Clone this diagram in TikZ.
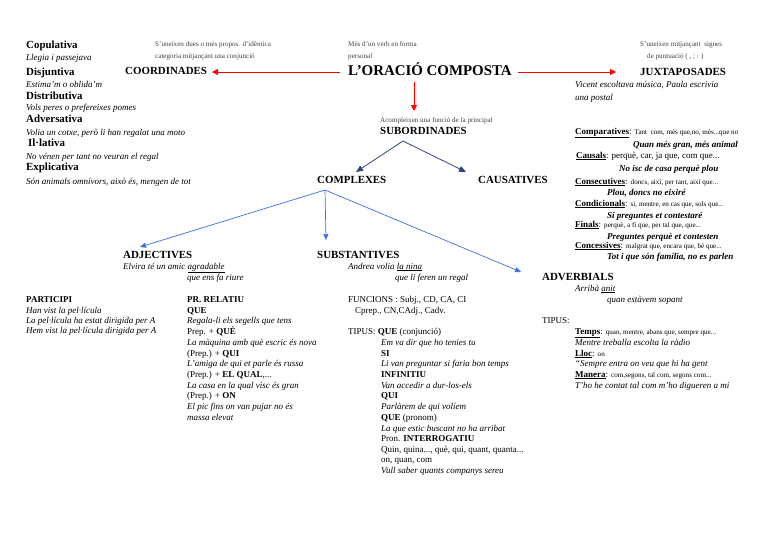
\documentclass[tikz,border=0pt]{standalone}
\usepackage{fontspec}
\setmainfont{Liberation Serif}
\usetikzlibrary{arrows.meta}
\definecolor{navy}{RGB}{50,70,120}
\definecolor{lblue}{RGB}{60,110,230}
\newcommand{\smtx}{\fontsize{7.1}{7}\selectfont}
\begin{document}
\begin{tikzpicture}[x=1pt,y=-1pt,
 t/.style={anchor=base west,inner sep=0pt,yshift=-3pt,font=\fontsize{9}{9}\selectfont},
 e/.style={t,font=\fontsize{9}{9}\selectfont\itshape},
 h/.style={t,yshift=-0.6pt,font=\fontsize{10.9}{11}\selectfont\bfseries},
 s/.style={t,yshift=1pt,font=\fontsize{7.1}{7}\selectfont,text=black!75},
 big/.style={t,yshift=-1.5pt,font=\fontsize{14.9}{15}\selectfont\bfseries},
 red/.style={draw=red,line width=0.9pt,-{Triangle[length=6pt,width=6pt]}},
 bl/.style={draw=lblue,line width=0.7pt,-{Triangle[length=6pt,width=5pt]}},
 nv/.style={draw=navy,line width=0.8pt}]
\useasboundingbox (0,0) rectangle (768,543);
% left column
\node[h] (cop) at (26,45) {Copulativa};
\node[e] (cope) at (26,57) {Llegia i passejava};
\node[h] (dis) at (26,72) {Disjuntiva};
\node[e] (dise) at (26,84) {Estima'm o oblida'm};
\node[h] (dst) at (26,96) {Distributiva};
\node[e] (dste) at (26,107) {Vols peres o prefereixes pomes};
\node[h] (adv) at (26,119) {Adversativa};
\node[e] (adve) at (26,132) {Volia un cotxe, però li han regalat una moto};
\node[h] (ill) at (28,143) {Il·lativa};
\node[e] (ille) at (26,156) {No vénen per tant no veuran el regal};
\node[h] (exp) at (26,167) {Explicativa};
\node[e] (expe) at (26,181) {Són animals omnívors, això és, mengen de tot};
\node[s] (cd1) at (155,45) {S'uneixen dues o més propos. d'idèntica};
\node[s] (cd2) at (155,57) {categoria mitjançant una conjunció};
\node[h] (coord) at (125,71) {COORDINADES};
% centre
\node[s] (mv1) at (348,45) {Més d'un verb en forma};
\node[s] (mv2) at (348,57) {personal};
\node[big] (comp) at (348,71) {L'ORACIÓ COMPOSTA};
\node[s] (jx1) at (640,45) {S'uneixen mitjançant\ \ signes};
\node[s] (jx2) at (647,57) {de puntuació ( , ; : )};
\node[h] (juxt) at (640,72) {JUXTAPOSADES};
\node[e] (jxe1) at (575,84) {Vicent escoltava música, Paula escrivia};
\node[e] (jxe2) at (575,97) {una postal};
\node[s] (acp) at (380,120) {Acompleixen una funció de la principal};
\node[h] (sub) at (380,131) {SUBORDINADES};
\node[h] (cplx) at (317,180) {COMPLEXES};
\node[h] (caus) at (478,180) {CAUSATIVES};
\coordinate (sp) at (403,141);
\draw[red] (340,72) -- (212,72);
\draw[red] (518,72) -- (616,72);
\draw[red] (414,82) -- (414,111);
\draw[nv,-{Triangle[length=7pt,width=6pt]}] (sp) -- (356,172);
\draw[nv,-{Triangle[length=7pt,width=6pt]}] (sp) -- (466,172);
% causatives list
\node[t] (cm) at (575,131) {\underline{\textbf{Comparatives}}: {\smtx Tant\ \ com, més que,no, més...que no}};
\node[e] (cme) at (633,144) {\bfseries Quan més gran, més animal};
\node[t] (ca) at (576,155) {\underline{\textbf{Causals}}: perquè, car, ja que, com que...};
\node[e] (cae) at (619,168) {\bfseries No isc de casa perquè plou};
\node[t] (cs) at (575,181) {\underline{\textbf{Consecutives}}: {\smtx doncs, així, per tant, així que...}};
\node[e] (cse) at (607,192) {\bfseries Plou, doncs no eixiré};
\node[t] (cn) at (575,203) {\underline{\textbf{Condicionals}}: {\smtx si, mentre, en cas que, sols que...}};
\node[e] (cne) at (607,215) {\bfseries Si preguntes et contestaré};
\node[t] (fi) at (575,224) {\underline{\textbf{Finals}}: {\smtx perquè, a fi que, per tal que, que...}};
\node[e] (fie) at (607,236) {\bfseries Preguntes perquè et contesten};
\node[t] (cc) at (575,245) {\underline{\textbf{Concessives}}: {\smtx malgrat que, encara que, bé que...}};
\node[e] (cce) at (607,256) {\bfseries Tot i que són família, no es parlen};
% complexes branches
\node[h] (adj) at (123,255) {ADJECTIVES};
\node[e] (adje1) at (123,266) {Elvira té un amic \underline{agradable}};
\node[e] (adje2) at (187,277) {que ens fa riure};
\node[h] (sbs) at (317,255) {SUBSTANTIVES};
\node[e] (sbse1) at (348,266) {Andrea volia \underline{la nina}};
\node[e] (sbse2) at (395,277) {que li feren un regal};
\node[h] (advb) at (542,277) {ADVERBIALS};
\node[e] (advbe1) at (575,288) {Arribà \underline{anit}};
\node[e] (advbe2) at (607,299) {quan estàvem sopant};
\coordinate (cx) at (325,190);
\draw[bl] (cx) -- (140,247);
\draw[bl] (cx) -- (326,240);
\draw[bl] (cx) -- (521,272);
% participi / relatiu
\node[t] (par) at (26,299) {\textbf{PARTICIPI}};
\node[e] (par1) at (26,310) {Han vist la pel·lícula};
\node[e] (par2) at (26,320) {La pel·lícula ha estat dirigida per A};
\node[e] (par3) at (26,330) {Hem vist la pel·lícula dirigida per A};
\node[t] (r0) at (187,299) {\textbf{PR. RELATIU}};
\node[t] (r1) at (187,310) {\textbf{QUE}};
\node[e] (r2) at (187,320) {Regala-li els segells que tens};
\node[t] (r3) at (187,331) {Prep. + \textbf{QUÈ}};
\node[e] (r4) at (187,342) {La màquina amb què escric és nova};
\node[t] (r5) at (187,353) {(Prep.) + \textbf{QUI}};
\node[e] (r6) at (187,363) {L'amiga de qui et parle és russa};
\node[t] (r7) at (187,374) {(Prep.) + \textbf{EL QUAL},...};
\node[e] (r8) at (187,385) {La casa en la qual visc és gran};
\node[t] (r9) at (187,395) {(Prep.) + \textbf{ON}};
\node[e] (r10) at (187,406) {El pic fins on van pujar no és};
\node[e] (r11) at (187,417) {massa elevat};
% substantives
\node[t] (f1) at (348,299) {FUNCIONS : Subj., CD, CA, CI};
\node[t] (f2) at (355,310) {Cprep., CN,CAdj., Cadv.};
\node[t] (s0) at (348,331) {TIPUS: \textbf{QUE} (conjunció)};
\node[e] (s1) at (381,342) {Em va dir que ho tenies tu};
\node[t] (s2) at (381,353) {\textbf{SI}};
\node[e] (s3) at (381,363) {Li van preguntar si faria bon temps};
\node[t] (s4) at (381,374) {\textbf{INFINITIU}};
\node[e] (s5) at (381,385) {Van accedir a dur-los-els};
\node[t] (s6) at (381,395) {\textbf{QUI}};
\node[e] (s7) at (381,406) {Parlàrem de qui volíem};
\node[t] (s8) at (381,417) {\textbf{QUE} (pronom)};
\node[e] (s9) at (381,428) {La que estic buscant no ha arribat};
\node[t] (s10) at (381,438) {Pron. \textbf{INTERROGATIU}};
\node[t] (s11) at (381,449) {Quin, quina..., què, qui, quant, quanta...};
\node[t] (s12) at (381,459) {on, quan, com};
\node[e] (s13) at (381,470) {Vull saber quants companys sereu};
% adverbials
\node[t] (a0) at (542,320) {TIPUS:};
\node[t] (a1) at (575,331) {\underline{\textbf{Temps}}: {\smtx quan, mentre, abans que, sempre que...}};
\node[e] (a2) at (575,342) {Mentre treballa escolta la ràdio};
\node[t] (a3) at (575,353) {\underline{\textbf{Lloc}}: {\smtx on}};
\node[e] (a4) at (575,363) {``Sempre entra on veu que hi ha gent};
\node[t] (a5) at (575,374) {\underline{\textbf{Manera}}: {\smtx com,segons, tal com, segons com...}};
\node[e] (a6) at (575,385) {T'ho he contat tal com m'ho digueren a mi};
\end{tikzpicture}
\end{document}
